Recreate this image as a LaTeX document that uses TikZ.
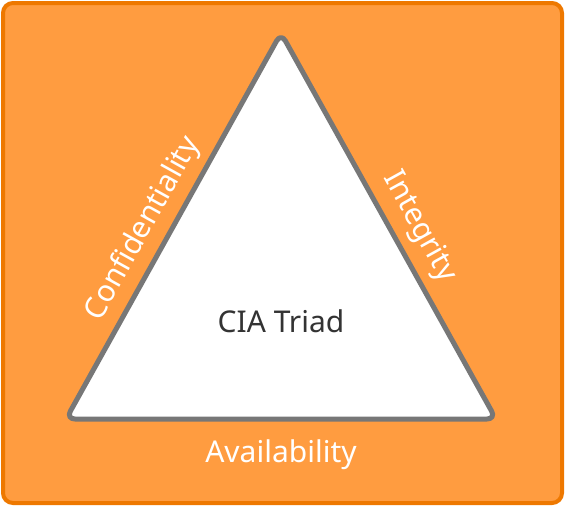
\documentclass[tikz,border=0pt]{standalone}
\usepackage{fontspec}
\setmainfont{Noto Sans}
\definecolor{bgfill}{HTML}{FF9C40}
\definecolor{bgline}{HTML}{EE7800}
\definecolor{triline}{HTML}{777777}
\definecolor{txtdark}{HTML}{333333}
\begin{document}
\begin{tikzpicture}[x=1pt,y=-1pt,
  lbl/.style={text=white,font=\fontsize{30}{34}\selectfont,inner sep=0pt},
  mid/.style={text=txtdark,font=\fontsize{30}{34}\selectfont,inner sep=0pt}]
\useasboundingbox (0,0) rectangle (567,507);
\draw[bgline,fill=bgfill,line width=4pt,rounded corners=10pt] (3,3) rectangle (562,503);
\coordinate (A) at (281,33);
\coordinate (B) at (66,419);
\coordinate (C) at (496,419);
\draw[triline,fill=white,line width=5pt,rounded corners=9pt,line join=round] (A) -- (B) -- (C) -- cycle;
\node[mid] (t) at (281,321) {CIA Triad};
\node[lbl,rotate=61] (c) at (143,229) {Confidentiality};
\node[lbl,rotate=-61] (i) at (419,227) {Integrity};
\node[lbl] (a) at (281,455) {Availability};
\end{tikzpicture}
\end{document}
